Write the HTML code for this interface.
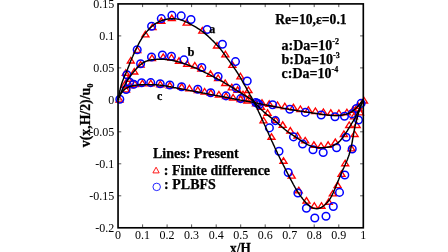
<!DOCTYPE html>
<html><head><meta charset="utf-8"><title>plot</title>
<style>html,body{margin:0;padding:0;background:#fff;overflow:hidden}svg{display:block}</style></head>
<body>
<svg width="448" height="252" viewBox="0 0 448 252">
<rect width="448" height="252" fill="#fff"/>
<path d="M142.6,227.8 v-3.4 M142.6,3.9 v3.2 M167.1,227.8 v-3.4 M167.1,3.9 v3.2 M191.6,227.8 v-3.4 M191.6,3.9 v3.2 M216.2,227.8 v-3.4 M216.2,3.9 v3.2 M240.7,227.8 v-3.4 M240.7,3.9 v3.2 M265.2,227.8 v-3.4 M265.2,3.9 v3.2 M289.7,227.8 v-3.4 M289.7,3.9 v3.2 M314.2,227.8 v-3.4 M314.2,3.9 v3.2 M338.8,227.8 v-3.4 M338.8,3.9 v3.2 M118.05,35.9 h3.2 M363.3,35.9 h-3.2 M118.05,67.9 h3.2 M363.3,67.9 h-3.2 M118.05,99.9 h3.2 M363.3,99.9 h-3.2 M118.05,131.8 h3.2 M363.3,131.8 h-3.2 M118.05,163.8 h3.2 M363.3,163.8 h-3.2 M118.05,195.8 h3.2 M363.3,195.8 h-3.2" stroke="#444" stroke-width="0.9" fill="none"/>
<path d="M116.0,102.0 L123.0,102.0 L119.5,96.5 Z M122.3,75.2 L129.3,75.2 L125.8,69.8 Z M127.3,63.0 L134.3,63.0 L130.8,57.5 Z M133.8,52.5 L140.8,52.5 L137.3,47.0 Z M141.9,36.8 L148.9,36.8 L145.4,31.2 Z M149.0,29.6 L156.0,29.6 L152.5,24.1 Z M157.8,23.2 L164.8,23.2 L161.3,17.8 Z M168.3,20.6 L175.3,20.6 L171.8,15.1 Z M183.2,25.1 L190.2,25.1 L186.7,19.6 Z M198.8,33.1 L205.8,33.1 L202.3,27.6 Z M213.5,48.0 L220.5,48.0 L217.0,42.5 Z M221.9,56.8 L228.9,56.8 L225.4,51.2 Z M228.9,67.3 L235.9,67.3 L232.4,61.8 Z M236.9,78.8 L243.9,78.8 L240.4,73.2 Z M245.0,92.5 L252.0,92.5 L248.5,87.0 Z M252.5,105.8 L259.5,105.8 L256.0,100.2 Z M260.0,122.8 L267.0,122.8 L263.5,117.2 Z M268.0,139.2 L275.0,139.2 L271.5,133.8 Z M280.0,163.2 L287.0,163.2 L283.5,157.8 Z M288.2,178.1 L295.2,178.1 L291.7,172.6 Z M295.2,192.8 L302.2,192.8 L298.8,187.2 Z M303.0,203.1 L310.0,203.1 L306.5,197.6 Z M310.8,208.2 L317.8,208.2 L314.3,202.7 Z M318.0,208.2 L325.0,208.2 L321.5,202.7 Z M325.2,204.2 L332.2,204.2 L328.7,198.8 Z M329.3,195.9 L336.3,195.9 L332.8,190.4 Z M334.1,187.6 L341.1,187.6 L337.6,182.1 Z M338.0,176.3 L345.0,176.3 L341.5,170.8 Z M341.7,165.7 L348.7,165.7 L345.2,160.2 Z M347.9,150.8 L354.9,150.8 L351.4,145.2 Z M351.1,136.5 L358.1,136.5 L354.6,131.0 Z M353.2,127.5 L360.2,127.5 L356.7,122.0 Z M356.5,114.8 L363.5,114.8 L360.0,109.2 Z M360.5,103.0 L367.5,103.0 L364.0,97.5 Z M121.1,87.2 L128.1,87.2 L124.6,81.8 Z M125.0,81.2 L132.0,81.2 L128.5,75.8 Z M130.8,74.0 L137.8,74.0 L134.3,68.5 Z M137.1,67.0 L144.1,67.0 L140.6,61.5 Z M148.5,60.5 L155.5,60.5 L152.0,55.0 Z M159.7,59.4 L166.7,59.4 L163.2,53.9 Z M168.0,60.0 L175.0,60.0 L171.5,54.5 Z M175.5,63.2 L182.5,63.2 L179.0,57.8 Z M183.7,66.2 L190.7,66.2 L187.2,60.8 Z M191.3,68.0 L198.3,68.0 L194.8,62.5 Z M197.8,71.0 L204.8,71.0 L201.3,65.5 Z M207.0,76.3 L214.0,76.3 L210.5,70.8 Z M214.6,80.5 L221.6,80.5 L218.1,75.0 Z M221.7,85.5 L228.7,85.5 L225.2,80.0 Z M228.3,89.8 L235.3,89.8 L231.8,84.2 Z M234.1,92.3 L241.1,92.3 L237.6,86.8 Z M239.5,96.8 L246.5,96.8 L243.0,91.2 Z M245.5,100.8 L252.5,100.8 L249.0,95.2 Z M257.5,109.2 L264.5,109.2 L261.0,103.8 Z M264.1,115.2 L271.1,115.2 L267.6,109.8 Z M272.2,122.3 L279.2,122.3 L275.7,116.8 Z M279.2,127.3 L286.2,127.3 L282.7,121.8 Z M286.8,133.1 L293.8,133.1 L290.3,127.6 Z M294.0,138.1 L301.0,138.1 L297.5,132.6 Z M301.7,142.9 L308.7,142.9 L305.2,137.4 Z M310.4,147.2 L317.4,147.2 L313.9,141.8 Z M317.5,148.2 L324.5,148.2 L321.0,142.7 Z M324.6,147.2 L331.6,147.2 L328.1,141.8 Z M331.8,144.6 L338.8,144.6 L335.3,139.1 Z M340.4,136.5 L347.4,136.5 L343.9,131.0 Z M345.7,127.5 L352.7,127.5 L349.2,122.0 Z M350.5,118.8 L357.5,118.8 L354.0,113.2 Z M355.0,110.8 L362.0,110.8 L358.5,105.2 Z M122.5,92.0 L129.5,92.0 L126.0,86.5 Z M126.5,87.8 L133.5,87.8 L130.0,82.2 Z M131.3,86.5 L138.3,86.5 L134.8,81.0 Z M138.9,85.7 L145.9,85.7 L142.4,80.2 Z M147.3,85.7 L154.3,85.7 L150.8,80.2 Z M156.8,86.7 L163.8,86.7 L160.3,81.2 Z M166.3,87.8 L173.3,87.8 L169.8,82.3 Z M178.2,89.2 L185.2,89.2 L181.7,83.8 Z M185.9,90.8 L192.9,90.8 L189.4,85.2 Z M194.3,92.5 L201.3,92.5 L197.8,87.0 Z M201.1,94.0 L208.1,94.0 L204.6,88.5 Z M207.3,95.3 L214.3,95.3 L210.8,89.8 Z M215.4,97.0 L222.4,97.0 L218.9,91.5 Z M222.5,98.5 L229.5,98.5 L226.0,93.0 Z M229.6,100.0 L236.6,100.0 L233.1,94.5 Z M237.1,101.5 L244.1,101.5 L240.6,96.0 Z M243.9,103.0 L250.9,103.0 L247.4,97.5 Z M258.5,105.2 L265.5,105.2 L262.0,99.8 Z M265.7,106.3 L272.7,106.3 L269.2,100.8 Z M274.0,107.5 L281.0,107.5 L277.5,102.0 Z M281.3,108.8 L288.3,108.8 L284.8,103.2 Z M289.9,109.8 L296.9,109.8 L293.4,104.3 Z M296.9,111.5 L303.9,111.5 L300.4,106.0 Z M304.9,112.3 L311.9,112.3 L308.4,106.8 Z M311.9,113.5 L318.9,113.5 L315.4,108.0 Z M319.9,114.5 L326.9,114.5 L323.4,109.0 Z M327.3,115.2 L334.3,115.2 L330.8,109.8 Z M335.4,115.5 L342.4,115.5 L338.9,110.0 Z M343.4,114.8 L350.4,114.8 L346.9,109.2 Z M349.5,112.2 L356.5,112.2 L353.0,106.8 Z M354.5,108.2 L361.5,108.2 L358.0,102.8 Z" stroke="#f00" stroke-width="1.35" fill="none"/>
<g stroke="#00f" stroke-width="1.5" fill="none">
<circle cx="119.8" cy="99.3" r="3.8"/>
<circle cx="126.9" cy="74.8" r="3.8"/>
<circle cx="137.2" cy="49.8" r="3.8"/>
<circle cx="151.6" cy="26.3" r="3.8"/>
<circle cx="161.3" cy="18.6" r="3.8"/>
<circle cx="171.9" cy="15.4" r="3.8"/>
<circle cx="181.2" cy="15.9" r="3.8"/>
<circle cx="191.0" cy="19.5" r="3.8"/>
<circle cx="207.1" cy="29.5" r="3.8"/>
<circle cx="222.4" cy="44.3" r="3.8"/>
<circle cx="235.5" cy="61.6" r="3.8"/>
<circle cx="247.2" cy="81.0" r="3.8"/>
<circle cx="257.5" cy="103.3" r="3.8"/>
<circle cx="269.4" cy="127.9" r="3.8"/>
<circle cx="279.0" cy="151.3" r="3.8"/>
<circle cx="288.2" cy="172.5" r="3.8"/>
<circle cx="297.9" cy="193.0" r="3.8"/>
<circle cx="306.4" cy="208.2" r="3.8"/>
<circle cx="314.8" cy="218.0" r="3.8"/>
<circle cx="326.0" cy="216.2" r="3.8"/>
<circle cx="333.3" cy="206.5" r="3.8"/>
<circle cx="339.5" cy="192.4" r="3.8"/>
<circle cx="344.8" cy="175.0" r="3.8"/>
<circle cx="352.2" cy="149.0" r="3.8"/>
<circle cx="358.5" cy="120.0" r="3.8"/>
<circle cx="361.1" cy="103.4" r="3.8"/>
<circle cx="140.6" cy="63.8" r="3.8"/>
<circle cx="151.5" cy="57.0" r="3.8"/>
<circle cx="162.4" cy="55.0" r="3.8"/>
<circle cx="171.4" cy="56.2" r="3.8"/>
<circle cx="184.0" cy="59.9" r="3.8"/>
<circle cx="201.8" cy="67.5" r="3.8"/>
<circle cx="218.1" cy="76.5" r="3.8"/>
<circle cx="236.2" cy="88.1" r="3.8"/>
<circle cx="255.8" cy="102.5" r="3.8"/>
<circle cx="275.4" cy="120.6" r="3.8"/>
<circle cx="293.5" cy="136.9" r="3.8"/>
<circle cx="302.6" cy="144.0" r="3.8"/>
<circle cx="313.0" cy="149.7" r="3.8"/>
<circle cx="323.2" cy="152.5" r="3.8"/>
<circle cx="336.6" cy="147.7" r="3.8"/>
<circle cx="346.2" cy="137.2" r="3.8"/>
<circle cx="356.5" cy="108.5" r="3.8"/>
<circle cx="126.1" cy="89.5" r="3.8"/>
<circle cx="129.7" cy="82.3" r="3.8"/>
<circle cx="133.7" cy="84.3" r="3.8"/>
<circle cx="141.6" cy="82.7" r="3.8"/>
<circle cx="150.7" cy="82.6" r="3.8"/>
<circle cx="160.2" cy="83.7" r="3.8"/>
<circle cx="169.8" cy="85.0" r="3.8"/>
<circle cx="181.6" cy="86.7" r="3.8"/>
<circle cx="197.8" cy="89.3" r="3.8"/>
<circle cx="210.7" cy="92.7" r="3.8"/>
<circle cx="226.0" cy="95.9" r="3.8"/>
<circle cx="240.7" cy="98.6" r="3.8"/>
<circle cx="259.2" cy="104.6" r="3.8"/>
<circle cx="272.6" cy="104.8" r="3.8"/>
<circle cx="289.8" cy="109.2" r="3.8"/>
<circle cx="305.4" cy="112.4" r="3.8"/>
<circle cx="321.2" cy="115.0" r="3.8"/>
<circle cx="335.0" cy="116.8" r="3.8"/>
<circle cx="344.5" cy="116.2" r="3.8"/>
<circle cx="351.9" cy="113.9" r="3.8"/>
</g>
<path d="M118.0,99.6 L118.3,98.1 L118.6,96.5 L119.0,95.0 L119.3,93.4 L119.6,91.9 L120.0,90.3 L120.3,88.8 L120.7,87.2 L121.1,85.7 L121.5,84.2 L122.0,82.7 L122.5,81.2 L123.1,79.7 L123.7,78.2 L124.3,76.8 L124.9,75.3 L125.6,73.9 L126.2,72.4 L126.8,70.9 L127.4,69.5 L128.0,68.0 L128.6,66.5 L129.2,65.1 L129.7,63.6 L130.3,62.1 L130.9,60.6 L131.5,59.2 L132.1,57.7 L132.8,56.3 L133.4,54.8 L134.1,53.4 L134.8,52.0 L135.4,50.6 L136.1,49.1 L136.8,47.7 L137.5,46.3 L138.2,44.8 L138.9,43.4 L139.6,42.0 L140.4,40.7 L141.2,39.3 L142.1,37.9 L142.9,36.6 L143.8,35.3 L144.8,34.1 L145.8,32.8 L146.8,31.6 L147.8,30.4 L148.9,29.2 L150.0,28.1 L151.2,27.0 L152.4,26.0 L153.6,25.0 L154.9,24.1 L156.3,23.2 L157.6,22.5 L159.0,21.7 L160.5,21.1 L162.0,20.5 L163.5,20.0 L165.0,19.6 L166.6,19.3 L168.1,19.0 L169.7,18.8 L171.3,18.7 L172.9,18.7 L174.5,18.7 L176.0,18.9 L177.6,19.1 L179.2,19.4 L180.7,19.9 L182.2,20.4 L183.7,20.9 L185.1,21.6 L186.6,22.2 L188.0,22.9 L189.4,23.6 L190.8,24.3 L192.2,25.1 L193.6,25.8 L195.0,26.6 L196.3,27.4 L197.7,28.3 L199.0,29.1 L200.3,30.0 L201.6,31.0 L202.9,31.9 L204.1,32.9 L205.4,33.9 L206.6,34.9 L207.8,35.9 L208.9,37.0 L210.1,38.1 L211.2,39.2 L212.3,40.3 L213.5,41.4 L214.6,42.6 L215.7,43.7 L216.7,44.9 L217.8,46.0 L218.8,47.2 L219.9,48.4 L220.9,49.6 L221.9,50.9 L222.8,52.1 L223.8,53.4 L224.7,54.7 L225.6,56.0 L226.5,57.3 L227.4,58.6 L228.4,59.9 L229.3,61.1 L230.2,62.4 L231.2,63.7 L232.1,65.0 L233.0,66.3 L233.9,67.6 L234.8,68.9 L235.7,70.2 L236.6,71.5 L237.5,72.8 L238.3,74.2 L239.1,75.5 L239.9,76.9 L240.7,78.2 L241.5,79.6 L242.3,81.0 L243.0,82.4 L243.8,83.8 L244.6,85.1 L245.4,86.5 L246.2,87.9 L246.9,89.3 L247.7,90.6 L248.5,92.0 L249.3,93.4 L250.0,94.8 L250.8,96.2 L251.6,97.5 L252.3,98.9 L253.1,100.3 L253.8,101.7 L254.5,103.2 L255.2,104.6 L255.9,106.0 L256.6,107.4 L257.3,108.8 L258.0,110.3 L258.6,111.7 L259.3,113.1 L260.0,114.6 L260.6,116.0 L261.3,117.5 L261.9,118.9 L262.6,120.3 L263.2,121.8 L263.9,123.2 L264.5,124.7 L265.2,126.1 L265.8,127.6 L266.5,129.0 L267.1,130.5 L267.8,131.9 L268.4,133.3 L269.0,134.8 L269.7,136.2 L270.3,137.7 L271.0,139.1 L271.6,140.6 L272.3,142.0 L273.0,143.4 L273.6,144.9 L274.3,146.3 L274.9,147.8 L275.6,149.2 L276.3,150.6 L277.0,152.0 L277.6,153.5 L278.3,154.9 L279.0,156.3 L279.7,157.8 L280.4,159.2 L281.1,160.6 L281.8,162.0 L282.5,163.4 L283.2,164.8 L283.9,166.2 L284.7,167.7 L285.4,169.1 L286.1,170.5 L286.8,171.9 L287.5,173.3 L288.3,174.7 L289.0,176.1 L289.7,177.5 L290.4,178.9 L291.2,180.3 L291.9,181.7 L292.7,183.1 L293.4,184.5 L294.2,185.9 L295.0,187.3 L295.8,188.6 L296.6,190.0 L297.4,191.3 L298.3,192.7 L299.2,194.0 L300.1,195.3 L301.0,196.6 L301.9,197.8 L302.9,199.1 L303.9,200.3 L304.9,201.6 L305.9,202.7 L307.0,203.9 L308.2,204.9 L309.5,205.9 L310.8,206.8 L312.3,207.6 L313.8,208.3 L315.3,208.6 L316.8,208.7 L318.4,208.5 L319.9,208.0 L321.4,207.3 L322.8,206.5 L324.1,205.5 L325.3,204.5 L326.5,203.4 L327.5,202.2 L328.5,201.0 L329.5,199.7 L330.3,198.4 L331.1,197.0 L331.8,195.6 L332.5,194.2 L333.2,192.8 L333.8,191.3 L334.5,189.8 L335.1,188.4 L335.7,186.9 L336.3,185.4 L336.9,184.0 L337.5,182.5 L338.1,181.0 L338.7,179.6 L339.3,178.1 L339.9,176.7 L340.5,175.2 L341.1,173.7 L341.7,172.3 L342.4,170.8 L343.0,169.4 L343.7,168.0 L344.3,166.5 L345.0,165.1 L345.6,163.6 L346.2,162.2 L346.9,160.7 L347.5,159.2 L348.0,157.8 L348.6,156.3 L349.1,154.8 L349.5,153.3 L350.0,151.8 L350.4,150.2 L350.8,148.7 L351.1,147.2 L351.5,145.6 L351.8,144.1 L352.1,142.5 L352.4,141.0 L352.6,139.4 L352.9,137.8 L353.2,136.3 L353.5,134.7 L353.7,133.1 L354.0,131.6 L354.3,130.0 L354.6,128.5 L354.9,126.9 L355.3,125.4 L355.6,123.8 L356.0,122.3 L356.4,120.7 L356.8,119.2 L357.2,117.7 L357.6,116.2 L358.1,114.6 L358.5,113.1 L359.0,111.6 L359.5,110.1 L360.0,108.6 L360.5,107.1 L361.0,105.6 L361.5,104.1 L362.0,102.6 L362.5,101.1 L363.0,99.6" stroke="#000" stroke-width="1.45" fill="none" stroke-linejoin="round"/>
<path d="M118.0,99.6 L118.4,98.6 L118.8,97.6 L119.2,96.7 L119.7,95.7 L120.1,94.7 L120.5,93.7 L120.9,92.8 L121.4,91.8 L121.8,90.8 L122.3,89.9 L122.8,88.9 L123.2,88.0 L123.7,87.0 L124.2,86.1 L124.7,85.2 L125.2,84.2 L125.8,83.3 L126.3,82.4 L126.8,81.4 L127.4,80.5 L127.9,79.6 L128.5,78.7 L129.1,77.8 L129.7,77.0 L130.3,76.1 L130.9,75.2 L131.6,74.4 L132.2,73.6 L132.9,72.8 L133.6,71.9 L134.3,71.1 L135.0,70.3 L135.7,69.5 L136.4,68.7 L137.1,67.9 L137.8,67.1 L138.6,66.4 L139.3,65.6 L140.1,64.9 L140.9,64.3 L141.8,63.6 L142.7,63.0 L143.6,62.5 L144.5,62.0 L145.5,61.5 L146.5,61.1 L147.5,60.8 L148.5,60.5 L149.5,60.2 L150.6,60.0 L151.6,59.8 L152.7,59.6 L153.7,59.5 L154.8,59.4 L155.9,59.4 L156.9,59.3 L158.0,59.3 L159.1,59.2 L160.1,59.2 L161.2,59.2 L162.2,59.3 L163.3,59.3 L164.4,59.4 L165.4,59.5 L166.5,59.5 L167.5,59.7 L168.6,59.8 L169.7,59.9 L170.7,60.1 L171.8,60.3 L172.8,60.5 L173.8,60.7 L174.9,61.0 L175.9,61.2 L176.9,61.5 L178.0,61.8 L179.0,62.0 L180.0,62.3 L181.0,62.6 L182.0,62.9 L183.1,63.3 L184.1,63.6 L185.1,63.9 L186.1,64.3 L187.1,64.6 L188.1,65.0 L189.1,65.4 L190.1,65.8 L191.1,66.2 L192.0,66.6 L193.0,67.0 L194.0,67.4 L195.0,67.8 L196.0,68.2 L196.9,68.7 L197.9,69.1 L198.9,69.5 L199.8,70.0 L200.8,70.4 L201.8,70.9 L202.7,71.4 L203.7,71.8 L204.6,72.3 L205.6,72.8 L206.5,73.2 L207.5,73.7 L208.4,74.2 L209.4,74.7 L210.3,75.1 L211.3,75.6 L212.2,76.1 L213.2,76.6 L214.1,77.1 L215.0,77.6 L216.0,78.1 L216.9,78.6 L217.8,79.1 L218.8,79.6 L219.7,80.1 L220.6,80.7 L221.6,81.2 L222.5,81.7 L223.4,82.2 L224.3,82.7 L225.3,83.3 L226.2,83.8 L227.1,84.3 L228.0,84.9 L228.9,85.4 L229.8,86.0 L230.8,86.5 L231.7,87.1 L232.6,87.6 L233.5,88.2 L234.4,88.8 L235.3,89.3 L236.1,89.9 L237.0,90.5 L237.9,91.1 L238.8,91.6 L239.7,92.2 L240.6,92.8 L241.5,93.3 L242.4,93.9 L243.3,94.5 L244.2,95.0 L245.1,95.6 L246.1,96.1 L247.0,96.7 L247.9,97.3 L248.8,97.8 L249.7,98.4 L250.6,99.0 L251.4,99.6 L252.3,100.3 L253.1,100.9 L253.9,101.6 L254.6,102.4 L255.4,103.1 L256.1,103.9 L256.8,104.7 L257.5,105.5 L258.3,106.3 L259.0,107.1 L259.7,107.9 L260.4,108.6 L261.2,109.4 L261.9,110.1 L262.7,110.8 L263.5,111.6 L264.3,112.3 L265.1,112.9 L265.9,113.6 L266.7,114.3 L267.6,115.0 L268.4,115.6 L269.2,116.3 L270.1,116.9 L270.9,117.6 L271.8,118.2 L272.6,118.9 L273.4,119.6 L274.3,120.2 L275.1,120.9 L275.9,121.6 L276.7,122.3 L277.5,123.0 L278.3,123.7 L279.1,124.4 L279.9,125.1 L280.7,125.8 L281.5,126.5 L282.3,127.2 L283.1,127.9 L283.9,128.6 L284.7,129.3 L285.5,130.0 L286.4,130.6 L287.2,131.3 L288.0,131.9 L288.9,132.5 L289.8,133.1 L290.6,133.7 L291.5,134.3 L292.4,134.9 L293.3,135.5 L294.2,136.1 L295.1,136.7 L296.0,137.3 L296.9,137.9 L297.8,138.4 L298.6,139.0 L299.5,139.6 L300.4,140.2 L301.3,140.8 L302.2,141.4 L303.1,142.0 L304.0,142.5 L304.9,143.1 L305.9,143.6 L306.8,144.1 L307.7,144.6 L308.7,145.1 L309.7,145.5 L310.6,145.9 L311.6,146.3 L312.7,146.6 L313.7,146.9 L314.7,147.1 L315.8,147.3 L316.8,147.5 L317.9,147.6 L318.9,147.7 L320.0,147.8 L321.1,147.8 L322.1,147.8 L323.2,147.7 L324.2,147.7 L325.3,147.6 L326.4,147.4 L327.4,147.2 L328.5,147.0 L329.5,146.8 L330.6,146.5 L331.6,146.2 L332.6,145.8 L333.6,145.4 L334.5,144.9 L335.5,144.4 L336.4,143.9 L337.2,143.3 L338.1,142.6 L338.9,141.9 L339.6,141.2 L340.4,140.4 L341.1,139.6 L341.8,138.8 L342.4,137.9 L343.1,137.1 L343.7,136.2 L344.3,135.3 L344.9,134.4 L345.5,133.5 L346.1,132.6 L346.7,131.7 L347.3,130.8 L347.8,129.9 L348.4,129.0 L348.9,128.1 L349.5,127.2 L350.0,126.3 L350.6,125.4 L351.1,124.5 L351.6,123.6 L352.2,122.7 L352.7,121.8 L353.3,120.8 L353.8,119.9 L354.3,119.0 L354.8,118.1 L355.3,117.1 L355.8,116.2 L356.3,115.2 L356.8,114.3 L357.3,113.3 L357.7,112.4 L358.2,111.4 L358.6,110.4 L359.0,109.5 L359.5,108.5 L359.9,107.5 L360.3,106.5 L360.7,105.5 L361.1,104.6 L361.5,103.6 L361.8,102.6 L362.2,101.6 L362.6,100.6 L363.0,99.6" stroke="#000" stroke-width="1.45" fill="none" stroke-linejoin="round"/>
<path d="M118.0,99.6 L118.4,98.8 L118.7,98.0 L119.1,97.2 L119.5,96.4 L119.9,95.7 L120.3,94.9 L120.7,94.1 L121.2,93.4 L121.7,92.7 L122.2,92.0 L122.7,91.3 L123.3,90.7 L123.9,90.1 L124.6,89.5 L125.3,89.0 L126.0,88.5 L126.8,88.0 L127.5,87.6 L128.3,87.2 L129.1,86.8 L129.9,86.5 L130.7,86.2 L131.6,86.0 L132.4,85.8 L133.3,85.6 L134.1,85.4 L135.0,85.3 L135.9,85.2 L136.7,85.1 L137.6,85.0 L138.5,84.9 L139.3,84.8 L140.2,84.8 L141.1,84.7 L141.9,84.7 L142.8,84.7 L143.7,84.6 L144.5,84.6 L145.4,84.6 L146.3,84.6 L147.1,84.6 L148.0,84.6 L148.9,84.6 L149.8,84.6 L150.6,84.6 L151.5,84.6 L152.4,84.7 L153.2,84.7 L154.1,84.7 L155.0,84.8 L155.8,84.8 L156.7,84.9 L157.6,85.0 L158.4,85.0 L159.3,85.1 L160.2,85.2 L161.0,85.3 L161.9,85.4 L162.8,85.5 L163.6,85.6 L164.5,85.8 L165.4,85.9 L166.2,86.0 L167.1,86.2 L167.9,86.3 L168.8,86.5 L169.6,86.6 L170.5,86.8 L171.4,87.0 L172.2,87.1 L173.1,87.3 L173.9,87.5 L174.8,87.7 L175.6,87.8 L176.5,88.0 L177.3,88.2 L178.2,88.3 L179.0,88.5 L179.9,88.7 L180.7,88.8 L181.6,89.0 L182.5,89.1 L183.3,89.3 L184.2,89.5 L185.0,89.6 L185.9,89.8 L186.7,89.9 L187.6,90.1 L188.4,90.2 L189.3,90.4 L190.2,90.6 L191.0,90.7 L191.9,90.9 L192.7,91.0 L193.6,91.2 L194.4,91.4 L195.3,91.5 L196.1,91.7 L197.0,91.8 L197.9,92.0 L198.7,92.2 L199.6,92.3 L200.4,92.5 L201.3,92.6 L202.1,92.8 L203.0,93.0 L203.8,93.1 L204.7,93.3 L205.5,93.5 L206.4,93.6 L207.3,93.8 L208.1,94.0 L209.0,94.1 L209.8,94.3 L210.7,94.5 L211.5,94.6 L212.4,94.8 L213.2,94.9 L214.1,95.1 L214.9,95.3 L215.8,95.4 L216.7,95.6 L217.5,95.7 L218.4,95.9 L219.2,96.0 L220.1,96.2 L220.9,96.4 L221.8,96.5 L222.7,96.7 L223.5,96.8 L224.4,97.0 L225.2,97.2 L226.1,97.3 L226.9,97.5 L227.8,97.6 L228.6,97.8 L229.5,98.0 L230.3,98.1 L231.2,98.3 L232.1,98.5 L232.9,98.7 L233.8,98.8 L234.6,99.0 L235.5,99.2 L236.3,99.3 L237.2,99.5 L238.0,99.7 L238.9,99.8 L239.7,100.0 L240.6,100.1 L241.5,100.3 L242.3,100.4 L243.2,100.6 L244.0,100.7 L244.9,100.9 L245.7,101.0 L246.6,101.2 L247.5,101.3 L248.3,101.5 L249.2,101.6 L250.0,101.8 L250.9,101.9 L251.7,102.1 L252.6,102.2 L253.4,102.4 L254.3,102.6 L255.2,102.7 L256.0,102.9 L256.9,103.1 L257.7,103.3 L258.6,103.5 L259.4,103.6 L260.3,103.8 L261.1,104.0 L262.0,104.2 L262.8,104.4 L263.7,104.5 L264.5,104.7 L265.4,104.9 L266.2,105.0 L267.1,105.2 L267.9,105.4 L268.8,105.5 L269.6,105.7 L270.5,105.8 L271.4,106.0 L272.2,106.2 L273.1,106.3 L273.9,106.5 L274.8,106.6 L275.6,106.8 L276.5,106.9 L277.4,107.1 L278.2,107.3 L279.1,107.4 L279.9,107.6 L280.8,107.7 L281.6,107.9 L282.5,108.1 L283.3,108.2 L284.2,108.4 L285.0,108.6 L285.9,108.7 L286.8,108.9 L287.6,109.1 L288.5,109.2 L289.3,109.4 L290.2,109.5 L291.0,109.7 L291.9,109.8 L292.7,110.0 L293.6,110.1 L294.5,110.2 L295.3,110.4 L296.2,110.5 L297.0,110.6 L297.9,110.8 L298.8,110.9 L299.6,111.0 L300.5,111.1 L301.4,111.3 L302.2,111.4 L303.1,111.5 L303.9,111.6 L304.8,111.8 L305.7,111.9 L306.5,112.0 L307.4,112.2 L308.2,112.3 L309.1,112.4 L310.0,112.6 L310.8,112.7 L311.7,112.8 L312.5,113.0 L313.4,113.1 L314.3,113.2 L315.1,113.4 L316.0,113.5 L316.8,113.6 L317.7,113.8 L318.6,113.9 L319.4,114.0 L320.3,114.1 L321.1,114.2 L322.0,114.4 L322.9,114.5 L323.7,114.6 L324.6,114.7 L325.5,114.8 L326.3,114.9 L327.2,115.0 L328.1,115.1 L328.9,115.2 L329.8,115.3 L330.7,115.4 L331.5,115.4 L332.4,115.5 L333.3,115.5 L334.1,115.6 L335.0,115.6 L335.9,115.6 L336.7,115.6 L337.6,115.5 L338.5,115.5 L339.3,115.4 L340.2,115.3 L341.1,115.2 L341.9,115.1 L342.8,114.9 L343.7,114.8 L344.5,114.6 L345.4,114.4 L346.2,114.2 L347.0,113.9 L347.9,113.6 L348.7,113.3 L349.5,113.0 L350.3,112.6 L351.0,112.1 L351.7,111.7 L352.5,111.2 L353.2,110.7 L353.8,110.1 L354.5,109.5 L355.2,109.0 L355.8,108.4 L356.4,107.7 L357.0,107.1 L357.6,106.5 L358.2,105.9 L358.8,105.2 L359.4,104.6 L359.9,103.9 L360.5,103.2 L361.1,102.6 L361.6,101.9 L362.2,101.2 L362.7,100.6 L363.3,99.9" stroke="#000" stroke-width="1.45" fill="none" stroke-linejoin="round"/>
<rect x="118.05" y="3.9" width="245.25" height="223.9" fill="none" stroke="#000" stroke-width="1.65"/>
<g font-family="'Liberation Serif', serif" font-size="12" fill="#000">
<text x="118.0" y="239.2" text-anchor="middle">0</text>
<text x="142.6" y="239.2" text-anchor="middle">0.1</text>
<text x="167.1" y="239.2" text-anchor="middle">0.2</text>
<text x="191.6" y="239.2" text-anchor="middle">0.3</text>
<text x="216.2" y="239.2" text-anchor="middle">0.4</text>
<text x="240.7" y="239.2" text-anchor="middle">0.5</text>
<text x="265.2" y="239.2" text-anchor="middle">0.6</text>
<text x="289.7" y="239.2" text-anchor="middle">0.7</text>
<text x="314.2" y="239.2" text-anchor="middle">0.8</text>
<text x="338.8" y="239.2" text-anchor="middle">0.9</text>
<text x="363.3" y="239.2" text-anchor="middle">1</text>
<text x="114.3" y="7.9" text-anchor="end">0.15</text>
<text x="114.3" y="39.9" text-anchor="end">0.1</text>
<text x="114.3" y="71.9" text-anchor="end">0.05</text>
<text x="114.3" y="103.9" text-anchor="end">0</text>
<text x="114.3" y="135.8" text-anchor="end">-0.05</text>
<text x="114.3" y="167.8" text-anchor="end">-0.1</text>
<text x="114.3" y="199.8" text-anchor="end">-0.15</text>
<text x="114.3" y="231.8" text-anchor="end">-0.2</text>
</g>
<g font-family="'Liberation Serif', serif" font-size="14" font-weight="bold" fill="#000" stroke="#000" stroke-width="0.25">
<text transform="translate(240.4,252.7) scale(0.93,1.07)" text-anchor="middle" font-size="14.3">x/H</text>
<text transform="translate(89.5,147.2) rotate(-90)" font-size="13.8">v(x,H/2)/u<tspan font-size="8.5" dy="3.2">0</tspan></text>
<text x="275.2" y="24.0" textLength="71.5" lengthAdjust="spacingAndGlyphs">Re=10,ε=0.1</text>
<text x="281.5" y="50">a:Da=10<tspan font-size="8" dy="-6">-2</tspan></text>
<text x="281.5" y="64">b:Da=10<tspan font-size="8" dy="-6">-3</tspan></text>
<text x="281.5" y="78">c:Da=10<tspan font-size="8" dy="-6">-4</tspan></text>
<text x="153" y="158.3">Lines: Present</text>
<text x="163.8" y="174.7">: Finite difference</text>
<text x="164.1" y="188.8">: PLBFS</text>
<text x="209.2" y="32.7" font-size="12">a</text>
<text x="187.6" y="56.4" font-size="12.5">b</text>
<text x="157" y="99.6" font-size="12">c</text>
</g>
<path d="M152.9,172.9 L159.2,172.9 L156.1,167.2 Z" stroke="#f00" stroke-width="0.9" fill="none"/>
<circle cx="156.7" cy="186.9" r="3.75" stroke="#00f" stroke-width="0.85" fill="none"/>
</svg>
</body></html>
